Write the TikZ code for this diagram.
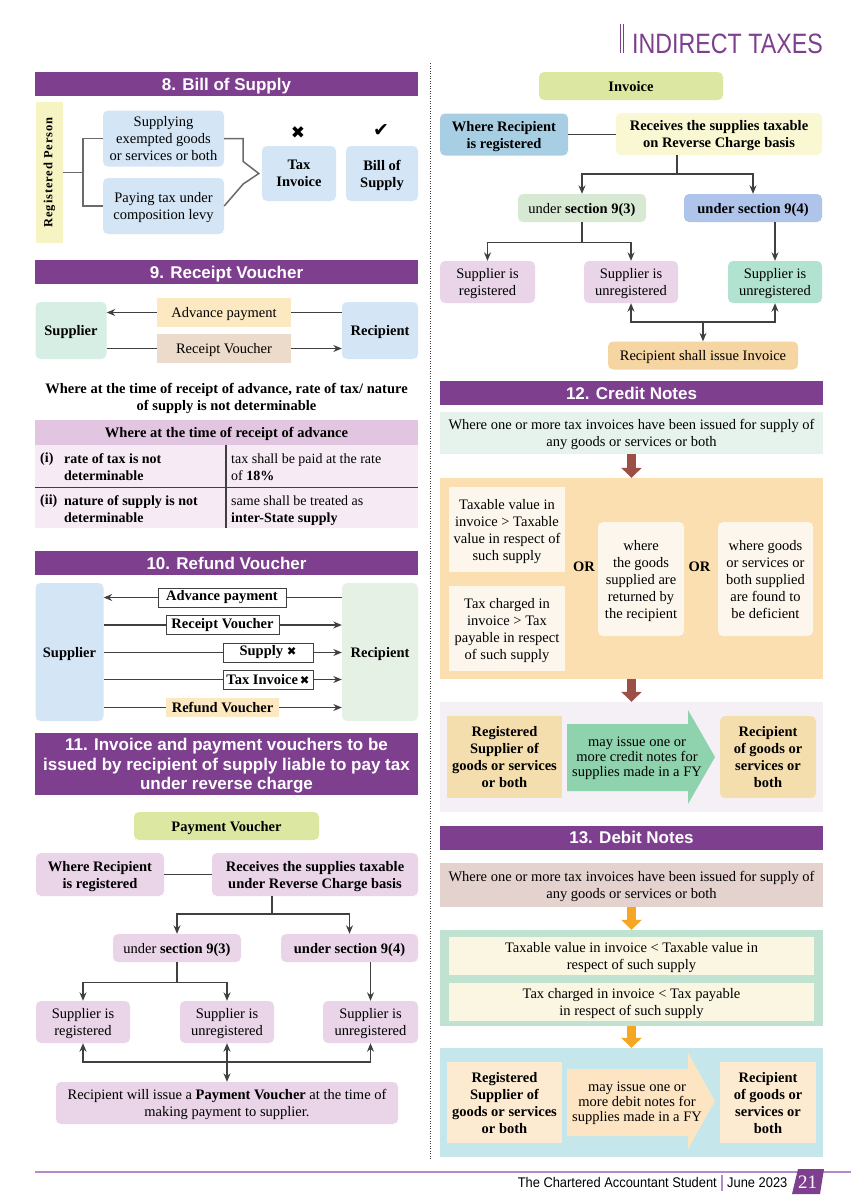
\documentclass[tikz,border=0pt]{standalone}
\usepackage{fontspec}
\setmainfont{Liberation Serif}
\newfontfamily\hsans{Liberation Sans}
\newfontfamily\csans[FakeStretch=0.83]{Liberation Sans}
\newfontfamily\fsans[FakeStretch=0.92]{Liberation Sans}
\newfontfamily\symf{DejaVu Sans}
\usetikzlibrary{arrows.meta,calc}
\definecolor{purp}{HTML}{7E3F8F}
\definecolor{lblue}{HTML}{D4E5F6}
\definecolor{yreg}{HTML}{F7F4C4}
\definecolor{lgreen}{HTML}{D6EEE3}
\definecolor{advor}{HTML}{FCE9C2}
\definecolor{rvtan}{HTML}{ECDACA}
\definecolor{thead}{HTML}{E2C5E0}
\definecolor{trow}{HTML}{F6EAF4}
\definecolor{recgr}{HTML}{E6F1E5}
\definecolor{pvg}{HTML}{DCE8A2}
\definecolor{pinkb}{HTML}{E9D4E8}
\definecolor{bwr}{HTML}{A7CEE2}
\definecolor{yrc}{HTML}{F9F8D2}
\definecolor{gnine}{HTML}{D7E9D2}
\definecolor{bnine}{HTML}{AFC4EA}
\definecolor{mintb}{HTML}{B2E3D1}
\definecolor{tanri}{HTML}{F5D5A2}
\definecolor{mintp}{HTML}{E6F3EC}
\definecolor{brn}{HTML}{9C4F47}
\definecolor{orp}{HTML}{FCDFB0}
\definecolor{creamb}{HTML}{FCF6EC}
\definecolor{lav}{HTML}{F4F0F5}
\definecolor{tanb}{HTML}{F4DEAD}
\definecolor{garr}{HTML}{8ED3AD}
\definecolor{dbx}{HTML}{E4D2CF}
\definecolor{oarr}{HTML}{F5A623}
\definecolor{gp}{HTML}{BFE3D0}
\definecolor{crmt}{HTML}{FAF6E1}
\definecolor{bp}{HTML}{C5E7EB}
\definecolor{peach}{HTML}{FDEBD1}
\definecolor{parr}{HTML}{FDE5C3}
\definecolor{lc}{HTML}{404040}
\definecolor{brkc}{HTML}{6A6A6A}
\definecolor{footc}{HTML}{B689C9}
\newcommand\bodyf{\fontsize{14.5}{17}\selectfont}
\newcommand\boldf{\bfseries\fontsize{14.5}{17}\selectfont}
\newcommand\tabf{\fontsize{14}{17}\selectfont}
\newcommand\hdrf{\hsans\bfseries\fontsize{17}{19.5}\selectfont}
\tikzset{
  ln/.style={draw=lc, line width=1.1pt},
  arr/.style={ln, -{Stealth[length=8.5pt,width=7pt]}},
  darr/.style={ln, {Stealth[length=8.5pt,width=7pt]}-{Stealth[length=8.5pt,width=7pt]}},
  brk/.style={draw=brkc, line width=1.5pt},
  hdr/.style={fill=purp, text=white, font=\hdrf, minimum width=383, minimum height=24, inner sep=0, align=center, text depth=0pt},
  bx/.style={rounded corners=5pt, inner sep=2pt, align=center, font=\bodyf, text depth=0pt},
  sq/.style={inner sep=2pt, align=center, font=\bodyf, text depth=0pt},
  bb/.style={font=\boldf},
  lbl/.style={draw=lc, line width=0.8pt, fill=white, inner sep=1pt, font=\boldf},
  barrow/.style={line width=9pt, -{Triangle[length=10pt,width=20pt]}},
}
\begin{document}
\begin{tikzpicture}[x=1pt,y=-1pt]
\useasboundingbox (0,0) rectangle (851,1200);
\fill[white] (0,0) rectangle (851,1200);

% ---- page header ----
\draw[draw=purp, line width=0.8pt] (620,24) -- (620,53);
\draw[draw=purp, line width=0.8pt] (623.5,24) -- (623.5,53);
\node[anchor=base west, inner sep=0, text=purp, font=\csans\fontsize{28}{28}\selectfont] (ttl) at (632,53) {INDIRECT TAXES};

% ---- dotted column separator ----
\draw[draw=lc, line width=0.9pt, dash pattern=on 1pt off 1.5pt] (430,63) -- (430,1160);

% ================= 8. Bill of Supply =================
\node[hdr] (h8) at (226.5,84) {8. Bill of Supply};
\node[fill=yreg, minimum width=141, minimum height=27, inner sep=0, rotate=90,
      font=\bfseries\fontsize{12.5}{12.5}\selectfont\addfontfeature{LetterSpace=7}] (rp) at (49.5,172.5) {Registered Person};
\node[bx, fill=lblue, minimum width=121, minimum height=56] (s8a) at (163.5,138.5) {Supplying\\exempted goods\\or services or both};
\node[bx, fill=lblue, minimum width=121, minimum height=56] (s8b) at (163.5,206) {Paying tax under\\composition levy};
\node[bx, bb, fill=lblue, minimum width=74, minimum height=55] (ti) at (299,173.5) {Tax\\Invoice};
\node[bx, bb, fill=lblue, minimum width=72, minimum height=55] (bs) at (382,173.5) {Bill of\\Supply};
\node[inner sep=0, font=\symf\fontsize{17}{17}\selectfont] (xm) at (298,133) {✖};
\node[inner sep=0, font=\symf\fontsize{19}{19}\selectfont] (ck) at (381,131) {✔};
\draw[brk] (rp.south) -- ++(20,0);
\draw[brk] (s8a.west) -- ++(-20,0) |- (s8b.west);
\draw[brk] (s8a.east) -- ++(19,0) -- ++(0,23) -- ($(ti.west)+(-3,0)$) -- ($(s8b.east)+(19,-22)$) -- (s8b.east);

% ================= 9. Receipt Voucher =================
\node[hdr] (h9) at (226.5,272) {9. Receipt Voucher};
\node[bx, bb, fill=lgreen, minimum width=71, minimum height=57] (sp9) at (71,330.5) {Supplier};
\node[bx, bb, fill=lblue, minimum width=76, minimum height=57] (rc9) at (380,330.5) {Recipient};
\node[sq, fill=advor, minimum width=134, minimum height=29] (ap9) at (224,312.5) {Advance payment};
\node[sq, fill=rvtan, minimum width=134, minimum height=29] (rv9) at (224,348.5) {Receipt Voucher};
\draw[ln] (rc9.west |- ap9.east) -- (ap9.east);
\draw[arr] (ap9.west) -- (sp9.east |- ap9.west);
\draw[ln] (sp9.east |- rv9.west) -- (rv9.west);
\draw[arr] (rv9.east) -- (rc9.west |- rv9.east);
\node[align=center, inner sep=0, font=\boldf] (q9) at (226.5,398) {Where at the time of receipt of advance, rate of tax/ nature\\of supply is not determinable};
\node[sq, bb, fill=thead, minimum width=383, minimum height=25] (th) at (226.5,432.5) {Where at the time of receipt of advance};
\node[fill=trow, minimum width=383, minimum height=83, inner sep=0] (tb) at (226.5,486.5) {};
\coordinate (dv) at (226,0);
\coordinate (rl) at (0,487.5);
\draw[ln] (tb.north -| dv) -- (tb.south -| dv);
\draw[ln] (tb.west |- rl) -- (tb.east |- rl);
\node[anchor=west, inner sep=0, font=\bfseries\tabf] (ia) at (40,459.5) {(i)};
\node[anchor=west, inner sep=0, align=left, font=\bfseries\tabf] (iat) at (64,467.5) {rate of tax is not\\determinable};
\node[anchor=west, inner sep=0, align=left, font=\tabf] (iar) at (231,467.5) {tax shall be paid at the rate\\of \textbf{18\%}};
\node[anchor=west, inner sep=0, font=\bfseries\tabf] (ib) at (40,501.5) {(ii)};
\node[anchor=west, inner sep=0, align=left, font=\bfseries\tabf] (ibt) at (64,509.5) {nature of supply is not\\determinable};
\node[anchor=west, inner sep=0, align=left, font=\tabf] (ibr) at (231,510.5) {same shall be treated as\\\textbf{inter-State supply}};

% ================= 10. Refund Voucher =================
\node[hdr] (h10) at (226.5,563) {10. Refund Voucher};
\node[bx, bb, fill=lblue, minimum width=68, minimum height=138] (sp10) at (69.5,652) {Supplier};
\node[bx, bb, fill=recgr, minimum width=76, minimum height=138] (rc10) at (380,652) {Recipient};
\node[lbl, minimum width=128, minimum height=19] (l1) at (222,597.5) {Advance payment};
\node[lbl, minimum width=113, minimum height=19] (l2) at (222.5,625) {Receipt Voucher};
\node[lbl, minimum width=90, minimum height=19] (l3) at (268,652.5) {Supply {\symf\fontsize{11.5}{11.5}\selectfont ✖}};
\node[lbl, minimum width=90, minimum height=19] (l4) at (268,679.5) {Tax Invoice\kern2pt{\symf\fontsize{11.5}{11.5}\selectfont ✖}};
\node[lbl, draw=none, fill=advor, minimum width=113, minimum height=19] (l5) at (222.5,707.5) {Refund Voucher};
\draw[ln] (rc10.west |- l1.east) -- (l1.east);
\draw[arr] (l1.west) -- (sp10.east |- l1.west);
\draw[ln] (sp10.east |- l2.west) -- (l2.west);
\draw[arr] (l2.east) -- (rc10.west |- l2.east);
\draw[ln] (sp10.east |- l3.west) -- (l3.west);
\draw[arr] (l3.east) -- (rc10.west |- l3.east);
\draw[ln] (sp10.east |- l4.west) -- (l4.west);
\draw[arr] (l4.east) -- (rc10.west |- l4.east);
\draw[ln] (sp10.east |- l5.west) -- (l5.west);
\draw[arr] (l5.east) -- (rc10.west |- l5.east);

% ================= 11. Reverse charge =================
\node[hdr, minimum height=62] (h11) at (226.5,764) {11. Invoice and payment vouchers to be\\issued by recipient of supply liable to pay tax\\under reverse charge};
\node[bx, bb, fill=pvg, minimum width=185, minimum height=28] (pv) at (226.5,826) {Payment Voucher};
\node[bx, bb, fill=pinkb, minimum width=128, minimum height=43] (wr1) at (100,874.5) {Where Recipient\\is registered};
\node[bx, bb, fill=pinkb, minimum width=206, minimum height=43] (rs1) at (315,874.5) {Receives the supplies taxable\\under Reverse Charge basis};
\draw[ln] (wr1.east) -- (rs1.west |- wr1.east);
\node[bx, fill=pinkb, minimum width=128, minimum height=28] (s93l) at (177,948) {under \textbf{section 9(3)}};
\node[bx, bb, fill=pinkb, minimum width=137, minimum height=28] (s94l) at (349.5,948) {under section 9(4)};
\coordinate (k1) at (272,914);
\draw[ln] (k1 |- rs1.south) -- (k1);
\draw[arr] (k1) -| (s93l.north);
\draw[arr] (k1) -| (s94l.north);
\node[bx, fill=pinkb, minimum width=94, minimum height=42] (pa) at (83,1022) {Supplier is\\registered};
\node[bx, fill=pinkb, minimum width=94, minimum height=42] (pb) at (227,1022) {Supplier is\\unregistered};
\node[bx, fill=pinkb, minimum width=95, minimum height=42] (pc) at (370.5,1022) {Supplier is\\unregistered};
\coordinate (k2) at ($(s93l.south)+(0,20)$);
\draw[ln] (s93l.south) -- (k2);
\draw[arr] (k2) -| (pa.north);
\draw[arr] (k2) -| (pb.north);
\draw[arr] (s94l.south -| pc.north) -- (pc.north);
\node[bx, fill=pinkb, minimum width=342, minimum height=42] (pr) at (227,1103) {Recipient will issue a \textbf{Payment Voucher} at the time of\\making payment to supplier.};
\coordinate (k3) at (227,1062);
\draw[arr] (k3) -| (pa.south);
\draw[arr] (k3) -| (pc.south);
\draw[darr] (pb.south) -- (pr.north);

% ================= Invoice (right column) =================
\node[bx, bb, fill=pvg, minimum width=184, minimum height=28] (inv) at (631,86) {Invoice};
\node[bx, bb, fill=bwr, minimum width=128, minimum height=42] (wr2) at (504,134.5) {Where Recipient\\is registered};
\node[bx, bb, fill=yrc, minimum width=206, minimum height=42] (rs2) at (719,134) {Receives the supplies taxable\\on Reverse Charge basis};
\draw[ln] (wr2.east) -- (rs2.west |- wr2.east);
\node[bx, fill=gnine, minimum width=128, minimum height=28] (s93r) at (582,208) {under \textbf{section 9(3)}};
\node[bx, bb, fill=bnine, minimum width=138, minimum height=28] (s94r) at (753,208) {under section 9(4)};
\coordinate (j2) at (677,174);
\draw[ln] (j2 |- rs2.south) -- (j2);
\draw[arr] (j2) -| (s93r.north);
\draw[arr] (j2) -| (s94r.north);
\node[bx, fill=pinkb, minimum width=95, minimum height=42] (ra) at (487.5,282) {Supplier is\\registered};
\node[bx, fill=pinkb, minimum width=94, minimum height=42] (rb) at (631,282) {Supplier is\\unregistered};
\node[bx, fill=mintb, minimum width=94, minimum height=42] (rcc) at (775,282) {Supplier is\\unregistered};
\coordinate (j3) at ($(s93r.south)+(0,20)$);
\draw[ln] (s93r.south) -- (j3);
\draw[arr] (j3) -| (ra.north);
\draw[arr] (j3) -| (rb.north);
\draw[arr] (s94r.south -| rcc.north) -- (rcc.north);
\node[bx, fill=tanri, minimum width=190, minimum height=28] (ri) at (703,355.5) {Recipient shall issue Invoice};
\coordinate (j4) at (703,322);
\draw[arr] (j4) -| (rb.south);
\draw[arr] (j4) -| (rcc.south);
\draw[arr] (j4) -- (j4 |- ri.north);

% ================= 12. Credit Notes =================
\node[hdr] (h12) at (631.5,393) {12. Credit Notes};
\node[sq, fill=mintp, minimum width=383, minimum height=42] (q12) at (631.5,433) {Where one or more tax invoices have been issued for supply of\\any goods or services or both};
\node[fill=orp, minimum width=383, minimum height=201, inner sep=0] (p12) at (631.5,578.5) {};
\draw[barrow, draw=brn] (q12.south) -- (p12.north);
\node[sq, fill=creamb, minimum width=116, minimum height=85] (ca) at (507,529.5) {Taxable value in\\invoice > Taxable\\value in respect of\\such supply};
\node[sq, fill=creamb, minimum width=116, minimum height=85] (cb) at (507,628.5) {Tax charged in\\invoice > Tax\\payable in respect\\of such supply};
\node[inner sep=0, font=\boldf] (or1) at (584,567) {OR};
\node[bx, fill=creamb, minimum width=86, minimum height=114] (cc) at (641,579) {where\\the goods\\supplied are\\returned by\\the recipient};
\node[inner sep=0, font=\boldf] (or2) at (699.5,567) {OR};
\node[bx, fill=creamb, minimum width=95, minimum height=114] (cd) at (765.5,579) {where goods\\or services or\\both supplied\\are found to\\be deficient};
\node[fill=lav, minimum width=383, minimum height=110, inner sep=0] (p12b) at (631.5,757) {};
\draw[barrow, draw=brn] (p12.south) -- (p12b.north);
\node[sq, bb, fill=tanb, minimum width=115, minimum height=82] (crs) at (504.5,757) {Registered\\Supplier of\\goods or services\\or both};
\fill[garr] (567,724) -- (688,724) -- (688,710) -- (715,757) -- (688,804) -- (688,791) -- (567,791) -- cycle;
\node[inner sep=0, align=center, font=\fontsize{14.5}{15}\selectfont] (cam) at (637,758) {may issue one or\\more credit notes for\\supplies made in a FY};
\node[bx, bb, fill=tanb, minimum width=96, minimum height=82] (crr) at (768,757) {Recipient\\of goods or\\services or\\both};

% ================= 13. Debit Notes =================
\node[hdr] (h13) at (631.5,837.5) {13. Debit Notes};
\node[sq, fill=dbx, minimum width=383, minimum height=44] (q13) at (631.5,885) {Where one or more tax invoices have been issued for supply of\\any goods or services or both};
\node[fill=gp, minimum width=383, minimum height=96, inner sep=0] (p13) at (631.5,978) {};
\draw[barrow, draw=oarr] (q13.south) -- (p13.north);
\node[sq, inner sep=1pt, fill=crmt, minimum width=365, minimum height=38] (t1) at (631.5,956) {Taxable value in invoice < Taxable value in\\respect of such supply};
\node[sq, inner sep=1pt, fill=crmt, minimum width=365, minimum height=38] (t2) at (631.5,1001.5) {Tax charged in invoice < Tax payable\\in respect of such supply};
\node[fill=bp, minimum width=383, minimum height=109, inner sep=0] (p13b) at (631.5,1102.5) {};
\draw[barrow, draw=oarr] (p13.south) -- (p13b.north);
\node[sq, bb, fill=peach, minimum width=115, minimum height=81] (drs) at (504.5,1102.5) {Registered\\Supplier of\\goods or services\\or both};
\fill[parr] (567,1069) -- (688,1069) -- (688,1053) -- (715,1101) -- (688,1149) -- (688,1136) -- (567,1136) -- cycle;
\node[inner sep=0, align=center, font=\fontsize{14.5}{15}\selectfont] (dam) at (637,1103) {may issue one or\\more debit notes for\\supplies made in a FY};
\node[sq, bb, fill=peach, minimum width=96, minimum height=81] (drr) at (768,1102.5) {Recipient\\of goods or\\services or\\both};

% ---- footer ----
\draw[draw=footc, line width=1.4pt] (35,1172) -- (851,1172);
\node[anchor=base east, inner sep=0, font=\fsans\fontsize{14}{14}\selectfont] (ft1) at (717,1187) {The Chartered Accountant Student};
\fill[footc] (720.8,1175) rectangle (722.8,1191);
\node[anchor=base west, inner sep=0, font=\fsans\fontsize{14}{14}\selectfont] (ft2) at (727,1187) {June 2023};
\fill[purp] (798,1169) -- (824,1169) -- (820,1194) -- (792,1194) -- cycle;
\node[inner sep=0, text=white, font=\fontsize{19}{19}\selectfont] (pg) at (807.5,1182) {21};
\end{tikzpicture}
\end{document}
